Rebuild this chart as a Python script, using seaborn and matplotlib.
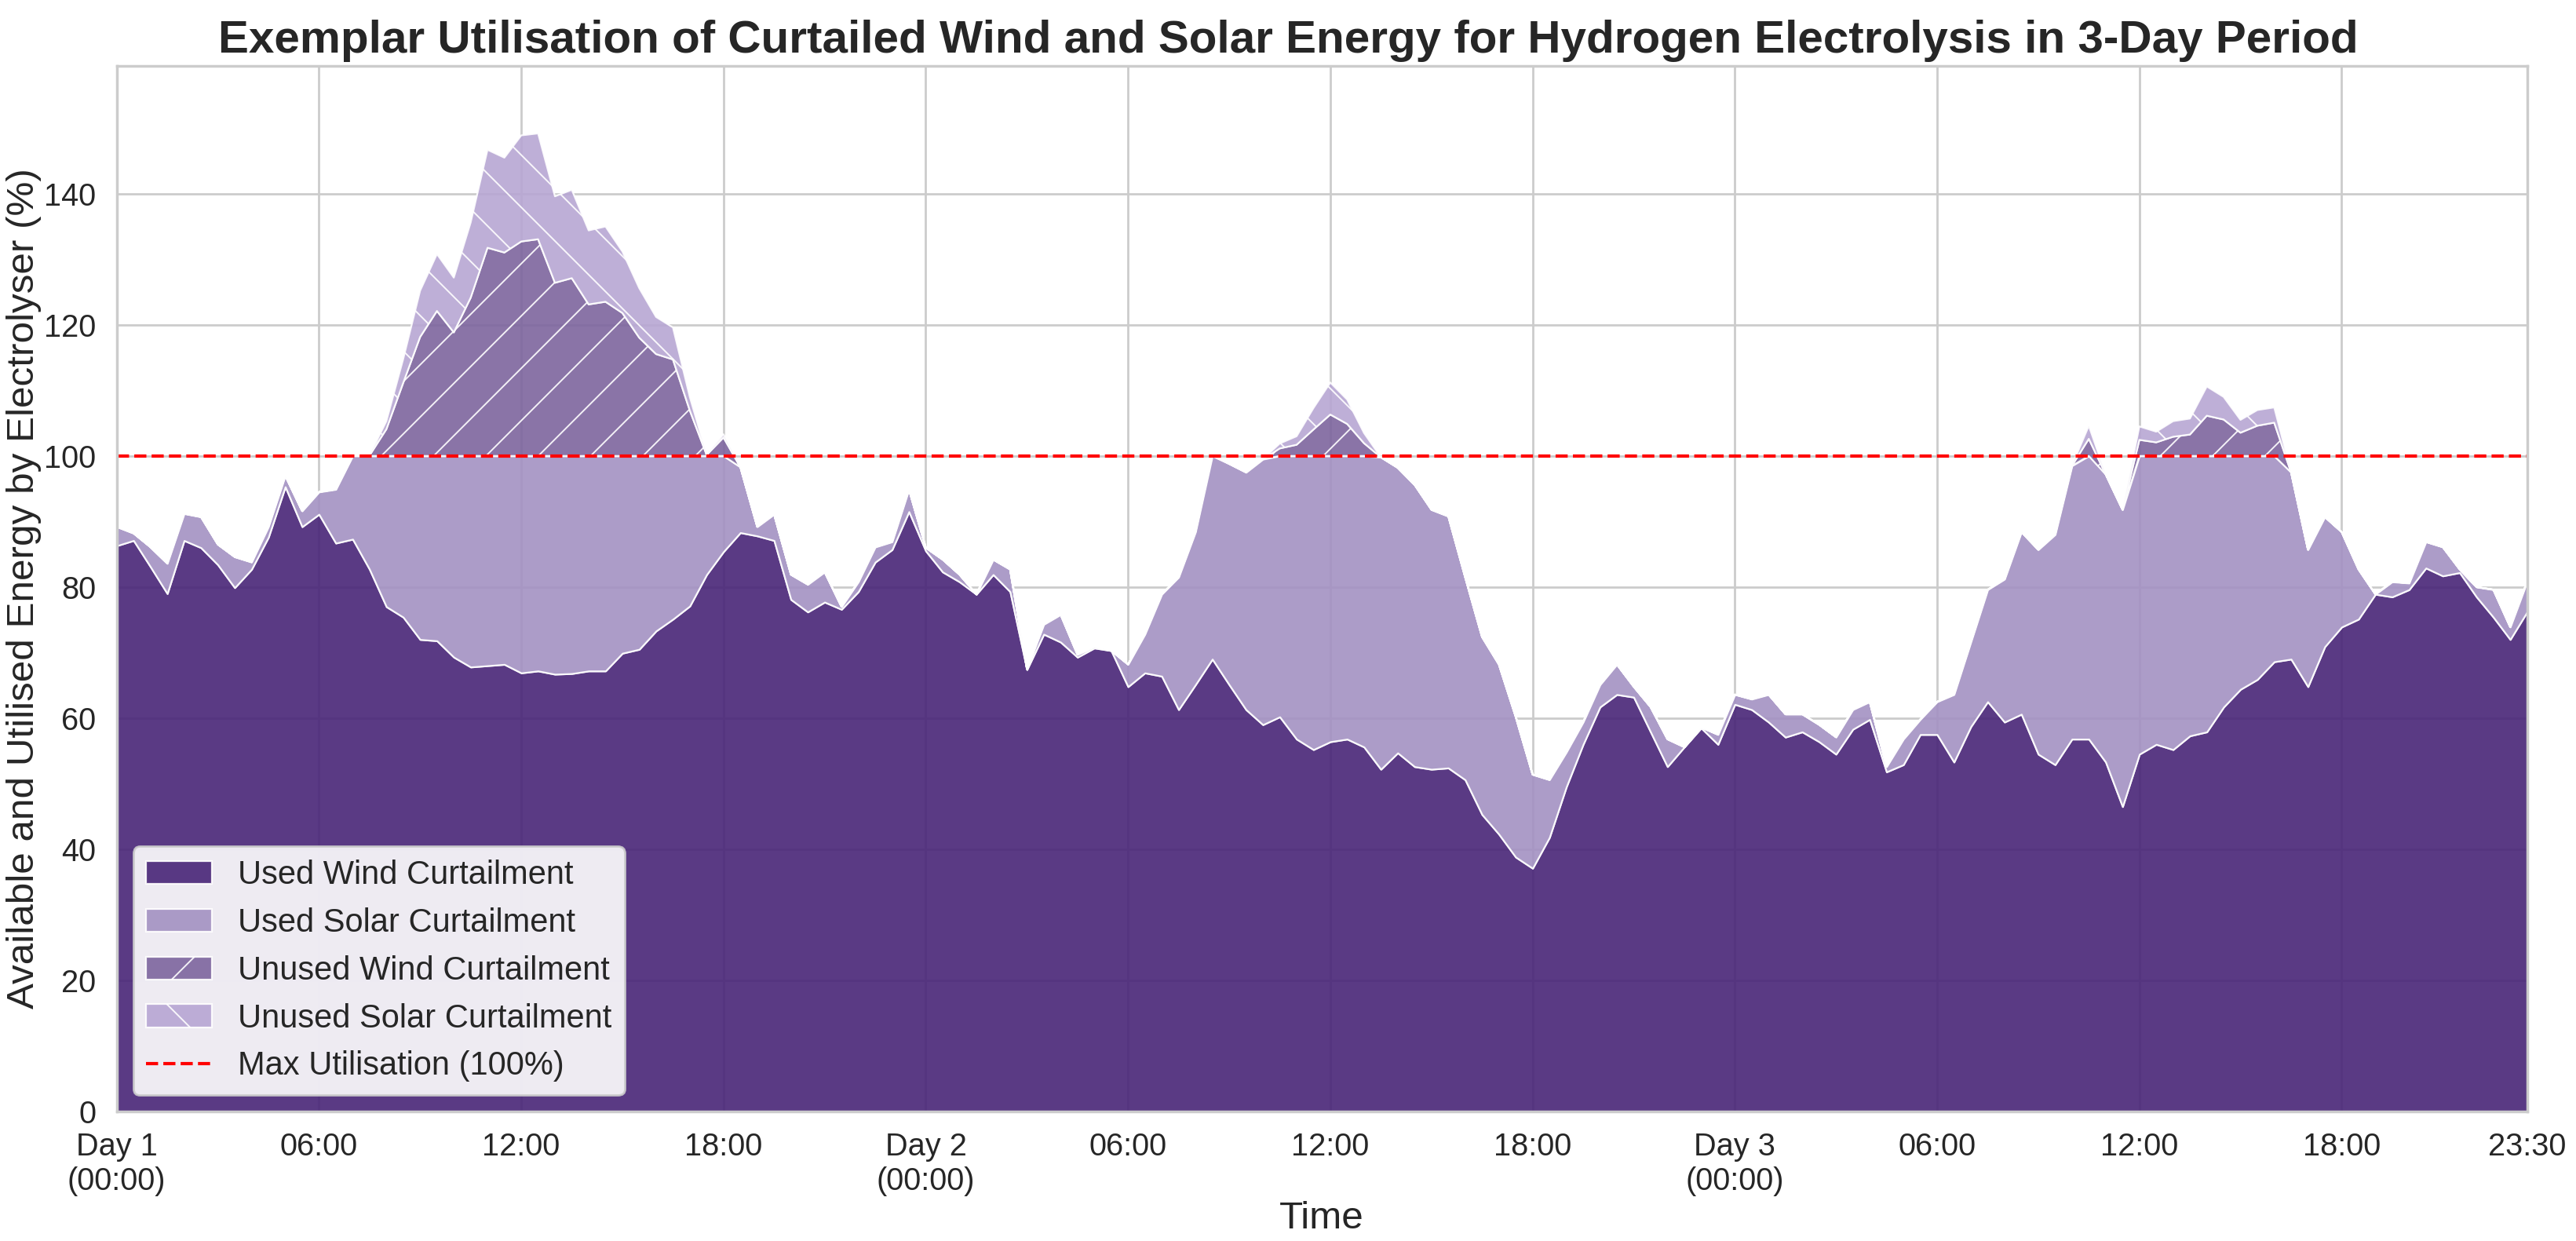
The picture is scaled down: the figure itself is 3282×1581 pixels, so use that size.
import numpy as np
import pandas as pd
import seaborn as sns
import matplotlib.pyplot as plt

# Curtailment available per half-hour slot (% of electrolyser capacity)
wind_used = [86.3, 87.1, 83.1, 79.0, 87.1, 86.0, 83.4, 79.9, 82.7, 87.6, 95.3, 89.2,
             91.1, 86.7, 87.3, 82.7, 77.0, 75.4, 72.0, 71.8, 69.3, 67.8, 68.0, 68.2,
             66.9, 67.2, 66.7, 66.8, 67.2, 67.2, 69.9, 70.5, 73.3, 75.1, 77.1, 81.9,
             85.4, 88.3, 87.8, 87.1, 78.1, 76.2, 77.7, 76.6, 79.3, 83.8, 85.7, 91.5,
             85.5, 82.3, 80.8, 78.9, 81.9, 79.3, 67.4, 72.8, 71.6, 69.3, 70.7, 70.3,
             64.8, 66.9, 66.4, 61.3, 65.1, 69.0, 65.1, 61.3, 59.0, 60.2, 56.8, 55.2,
             56.4, 56.8, 55.6, 52.2, 54.7, 52.6, 52.2, 52.4, 50.6, 45.3, 42.3, 38.8,
             37.1, 41.8, 49.5, 56.0, 61.7, 63.6, 63.2, 57.9, 52.6, 55.6, 58.5, 56.0,
             62.1, 61.3, 59.4, 57.1, 57.9, 56.4, 54.5, 58.3, 59.8, 51.8, 52.9, 57.5,
             57.5, 53.3, 58.7, 62.5, 59.4, 60.6, 54.5, 52.9, 56.8, 56.8, 53.3, 46.5,
             54.5, 56.0, 55.2, 57.3, 57.9, 61.7, 64.4, 65.9, 68.6, 69.0, 64.8, 70.9,
             73.9, 75.1, 78.9, 78.5, 79.6, 82.9, 81.7, 82.2, 78.5, 75.4, 72.0, 76.2]

total_available = [89.2, 88.2, 86.1, 83.6, 91.2, 90.7, 86.5, 84.6, 83.8, 89.2, 97.0, 91.6,
                   94.5, 94.9, 100.0, 100.1, 105.3, 114.8, 125.2, 130.8, 127.2, 135.6, 146.7, 145.5,
                   148.9, 149.2, 139.6, 140.6, 134.4, 135.0, 131.2, 125.6, 121.2, 119.6, 109.0, 100.2,
                   103.3, 98.3, 89.2, 91.1, 81.9, 80.4, 82.3, 77.0, 80.8, 86.1, 86.9, 94.9,
                   86.0, 84.2, 81.9, 78.9, 84.2, 82.7, 67.5, 74.3, 75.8, 69.7, 70.9, 70.3,
                   68.2, 72.8, 78.9, 81.5, 88.4, 100.2, 98.8, 97.5, 99.5, 101.9, 103.0, 107.3,
                   111.2, 108.6, 103.5, 99.8, 98.2, 95.6, 91.8, 90.8, 81.5, 72.4, 68.2, 60.2,
                   51.4, 50.6, 54.8, 59.4, 65.1, 68.2, 64.8, 61.7, 56.8, 55.6, 58.6, 57.5,
                   63.6, 62.9, 63.6, 60.6, 60.6, 59.0, 57.1, 61.3, 62.5, 52.6, 56.8, 59.8,
                   62.5, 63.6, 71.6, 79.6, 81.2, 88.4, 85.7, 88.0, 98.5, 104.6, 97.2, 91.8,
                   104.5, 103.7, 105.3, 105.7, 110.6, 109.0, 105.5, 107.0, 107.4, 97.5, 85.7, 90.7,
                   88.4, 82.7, 78.9, 80.8, 80.6, 86.9, 86.1, 82.7, 80.0, 79.6, 73.9, 80.8]

tick_pos = [0, 12, 24, 36, 48, 60, 72, 84, 96, 108, 120, 132, 143]
tick_labels = ['Day 1\n(00:00)', '06:00', '12:00', '18:00',
               'Day 2\n(00:00)', '06:00', '12:00', '18:00',
               'Day 3\n(00:00)', '06:00', '12:00', '18:00', '23:30']

max_util = 100

sns.set_theme(style='whitegrid')
plt.rcParams['font.family'] = ['Liberation Sans', 'DejaVu Sans']
plt.rcParams['hatch.linewidth'] = 0.7

df = pd.DataFrame({'wind_used': wind_used, 'total': total_available})
df['t'] = np.arange(len(df))
df['used_top'] = df['total'].clip(upper=max_util)
# excess above the electrolyser limit, shared out in the same ratio as the used part
df['unused_wind'] = df['wind_used'] * (df['total'] - max_util).clip(lower=0) / max_util
df['wind_unused_top'] = df['used_top'] + df['unused_wind']

fig = plt.figure(figsize=(16.41, 7.905), dpi=200)
ax = fig.add_axes([0.0453, 0.1044, 0.9357, 0.8425])

ax.fill_between(df['t'], 0, df['wind_used'], facecolor='#482477', alpha=0.9,
                edgecolor='white', linewidth=0.8, label='Used Wind Curtailment')
ax.fill_between(df['t'], df['wind_used'], df['used_top'], facecolor='#A391C2', alpha=0.9,
                edgecolor='white', linewidth=0.8, label='Used Solar Curtailment')
ax.fill_between(df['t'], df['used_top'], df['wind_unused_top'], facecolor='#7D659E', alpha=0.9,
                edgecolor='white', linewidth=0.8, hatch='/', label='Unused Wind Curtailment')
ax.fill_between(df['t'], df['wind_unused_top'], df['total'], facecolor='#B7A6D3', alpha=0.9,
                edgecolor='white', linewidth=0.8, hatch='\\', label='Unused Solar Curtailment')
ax.axhline(max_util, color='red', linestyle='--', linewidth=1.5, label='Max Utilisation (100%)')

ax.set_xlim(0, 143)
ax.set_ylim(0, 159.5)
ax.set_yticks(range(0, 141, 20))
ax.set_xticks(tick_pos)
ax.set_xticklabels(tick_labels)
ax.tick_params(axis='both', labelsize=14.3)

# title is centred on the whole figure, not the axes
ax.set_title('Exemplar Utilisation of Curtailed Wind and Solar Energy for Hydrogen Electrolysis in 3-Day Period',
             fontsize=21, fontweight='bold', x=0.486)
ax.set_xlabel('Time', fontsize=17.8, labelpad=2)
ax.set_ylabel('Available and Utilised Energy by Electrolyser (%)', fontsize=17.8, labelpad=1)

ax.legend(loc='lower left', fontsize=15, framealpha=0.9)

fig.savefig('out.png', dpi=200)
